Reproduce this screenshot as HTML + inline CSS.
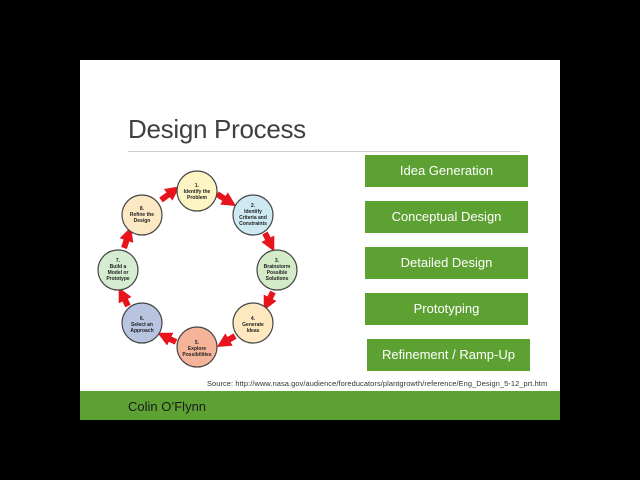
<!DOCTYPE html>
<html><head><style>
body{margin:0;background:#000;width:640px;height:480px;overflow:hidden;font-family:"Liberation Sans",sans-serif}
.slide{position:absolute;left:80px;top:60px;width:480px;height:360px;background:#fff}
.title{position:absolute;left:48px;top:54px;font-size:26px;color:#404040;letter-spacing:-0.3px}
.rule{position:absolute;left:48px;top:91px;width:392px;height:1px;background:#d0d0d0}
.box{position:absolute;left:285px;width:163px;height:32px;background:#5ea133;color:#fff;font-size:13px;text-align:center;line-height:32px}
.src{position:absolute;left:127px;top:319px;font-size:7.4px;color:#333;letter-spacing:0.1px}
.bar{position:absolute;left:0;top:331px;width:480px;height:29px;background:#5ea133}
.bar span{position:absolute;left:48px;top:8px;font-size:13px;color:#1a1a1a}
</style></head><body>
<div class="slide">
<div class="title">Design Process</div>
<div class="rule"></div>
<div class="box" style="top:95px">Idea Generation</div>
<div class="box" style="top:141px">Conceptual Design</div>
<div class="box" style="top:187px">Detailed Design</div>
<div class="box" style="top:233px">Prototyping</div>
<div class="box" style="top:279px;left:287px">Refinement / Ramp-Up</div>
<div class="src">Source: http://www.nasa.gov/audience/foreducators/plantgrowth/reference/Eng_Design_5-12_prt.htm</div>
<div class="bar"><span>Colin O’Flynn</span></div>
</div>
<svg style="position:absolute;left:0;top:0" width="640" height="480" font-family="Liberation Sans" font-weight="bold" font-size="5" text-anchor="middle">
<defs><marker id="a" markerWidth="2.4" markerHeight="2.4" refX="0.8" refY="1.2" orient="auto"><path d="M0,0L2.4,1.2L0,2.4z" fill="#e8141c"/></marker></defs>
<g stroke="#e8141c" stroke-width="6" marker-end="url(#a)">
<line x1="217" y1="194" x2="228" y2="201"/>
<line x1="265" y1="233" x2="270" y2="243"/>
<line x1="273" y1="292" x2="268" y2="302"/>
<line x1="235" y1="336" x2="225" y2="342"/>
<line x1="176" y1="342" x2="166" y2="337"/>
<line x1="128" y1="306" x2="123" y2="296"/>
<line x1="124" y1="248" x2="128" y2="236"/>
<line x1="161" y1="200" x2="172" y2="192"/>
</g>
<g stroke="#444" stroke-width="1.2">
<circle cx="197" cy="191" r="20" fill="#fdf5c4"/>
<circle cx="253" cy="215" r="20" fill="#cfe9f2"/>
<circle cx="277" cy="270" r="20" fill="#d4ebc8"/>
<circle cx="253" cy="323" r="20" fill="#fde8c0"/>
<circle cx="197" cy="347" r="20" fill="#f5b49a"/>
<circle cx="142" cy="323" r="20" fill="#b8c4e0"/>
<circle cx="118" cy="270" r="20" fill="#d4ecd0"/>
<circle cx="142" cy="215" r="20" fill="#fde8c4"/>
</g>
<g fill="#222">
<text x="197" y="187">1.</text><text x="197" y="193">Identify the</text><text x="197" y="199">Problem</text>
<text x="253" y="207">2.</text><text x="253" y="213">Identify</text><text x="253" y="219">Criteria and</text><text x="253" y="225">Constraints</text>
<text x="277" y="262">3.</text><text x="277" y="268">Brainstorm</text><text x="277" y="274">Possible</text><text x="277" y="280">Solutions</text>
<text x="253" y="320">4.</text><text x="253" y="326">Generate</text><text x="253" y="332">Ideas</text>
<text x="197" y="344">5.</text><text x="197" y="350">Explore</text><text x="197" y="356">Possibilities</text>
<text x="142" y="320">6.</text><text x="142" y="326">Select an</text><text x="142" y="332">Approach</text>
<text x="118" y="262">7.</text><text x="118" y="268">Build a</text><text x="118" y="274">Model or</text><text x="118" y="280">Prototype</text>
<text x="142" y="210">8.</text><text x="142" y="216">Refine the</text><text x="142" y="222">Design</text>
</g>
</svg>
</body></html>
